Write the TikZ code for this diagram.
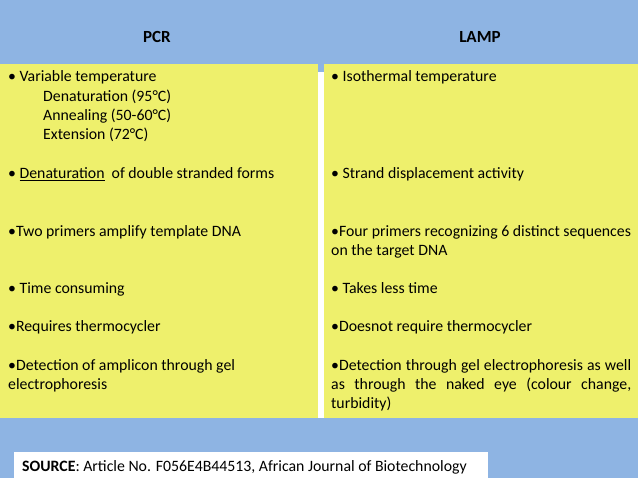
\documentclass[tikz,border=0pt]{standalone}
\usepackage{fontspec}
\setmainfont{Carlito}
\definecolor{bg}{HTML}{8EB4E3}
\definecolor{yel}{HTML}{EEF06C}
\begin{document}
\begin{tikzpicture}[x=1pt,y=-1pt,
  txt/.style={anchor=base west,inner sep=0pt,font=\fontsize{15.8}{18}\selectfont},
  hdr/.style={anchor=base,inner sep=0pt,font=\fontsize{17}{19}\selectfont\bfseries}]
\fill[bg] (0,0) rectangle (638,478);
\fill[white] (318,72) rectangle (324,418);
\fill[yel] (0,64) rectangle (318,418);
\fill[yel] (324,64) rectangle (638,418);
\fill[white] (14,452) rectangle (488,478);
\node[hdr] (h1) at (157,43) {PCR};
\node[hdr] (h2) at (480,43) {LAMP};
% left
\node[txt] (l1) at (8,82) {• Variable temperature};
\node[txt] (l2) at (43,102) {Denaturation (95°C)};
\node[txt] (l3) at (43,121) {Annealing (50-60°C)};
\node[txt] (l4) at (43,140) {Extension (72°C)};
\node[txt] (l5) at (8,179) {• \underline{Denaturation}\ \ of double stranded forms};
\node[txt] (l6) at (8,237) {•Two primers amplify template DNA};
\node[txt] (l7) at (8,294) {• Time consuming};
\node[txt] (l8) at (8,332) {•Requires thermocycler};
\node[txt] (l9) at (8,371) {•Detection of amplicon through gel};
\node[txt] (l10) at (8,390) {electrophoresis};
% right
\node[txt] (r1) at (331,82) {• Isothermal temperature};
\node[txt] (r2) at (331,179) {• Strand displacement activity};
\node[txt] (r3) at (331,237) {•Four primers recognizing 6 distinct sequences};
\node[txt] (r4) at (331,256) {on the target DNA};
\node[txt] (r5) at (331,294) {• Takes less time};
\node[txt] (r6) at (331,332) {•Doesnot require thermocycler};
\node[txt] (r7) at (331,371) {\makebox[300pt][s]{•Detection through gel electrophoresis as well}};
\node[txt] (r8) at (331,390) {\makebox[300pt][s]{as through the naked eye (colour change,}};
\node[txt] (r9) at (331,409) {turbidity)};
\node[txt] (src) at (22,472) {\textbf{SOURCE}: Article No. F056E4B44513, African Journal of Biotechnology};
\end{tikzpicture}
\end{document}
